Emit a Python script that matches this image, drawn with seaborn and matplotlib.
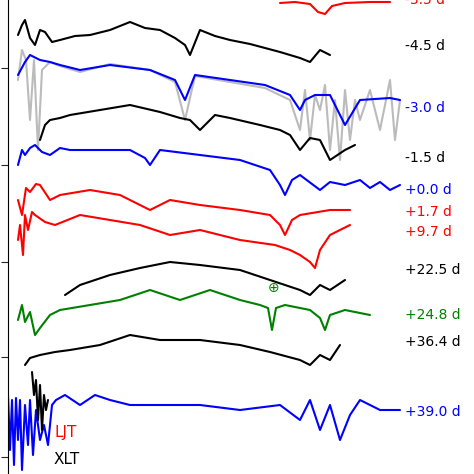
import matplotlib
matplotlib.use("Agg")
import matplotlib.pyplot as plt
import seaborn as sns
import pandas as pd

sns.set_style("white")
plt.rcParams['font.family'] = ['DejaVu Sans']

labels = ["-3.5 d","-4.5 d","-3.0 d","-1.5 d","+0.0 d","+1.7 d","+9.7 d","+22.5 d","+24.8 d","+36.4 d","+39.0 d"]
colors = ["red","black","blue","black","blue","red","red","black","green","black","blue"]
label_y = [0,46,108,158,190,212,232,270,315,342,412]

x_m35 = [280,295,310,318,325,332,345,370,390]
y_m35 = [3,2,4,12,14,6,3,2,2]
x_m45 = [18,22,25,30,35,40,45,52,60,75,90,110,130,145,160,175,185,190,200,215,230,250,265,280,290,300,310,320,330]
y_m45 = [35,25,20,38,45,30,32,42,40,36,35,30,22,28,30,38,45,55,30,36,40,44,48,52,55,58,62,50,55]
x_m30g = [18,22,26,30,34,38,42,50,60,80,110,150,175,185,195,230,265,290,300,305,310,315,320,325,330,335,340,345,350,355,360,370,380,390,395,400]
y_m30g = [80,50,60,120,60,150,70,62,66,72,64,70,82,120,76,82,88,100,130,90,140,95,110,85,150,100,160,90,140,100,120,90,130,80,140,100]
x_m30 = [18,25,30,40,50,60,80,110,150,175,185,195,230,265,290,300,305,315,330,345,360,390,400]
y_m30 = [75,62,55,60,62,65,70,65,70,80,100,75,80,85,95,110,100,95,95,125,100,98,100]
x_m15 = [40,45,50,60,70,100,130,160,180,190,200,215,230,260,280,290,300,310,320,330,345,355]
y_m15 = [140,125,120,118,115,110,105,112,118,120,130,115,118,125,130,135,150,138,140,160,150,145]
x_p00 = [18,22,25,30,35,42,50,60,70,100,130,145,150,160,200,240,270,280,285,292,300,320,330,345,360,370,380,390,400]
y_p00 = [165,150,155,148,145,152,155,148,150,150,150,158,165,150,155,160,170,185,195,180,175,190,182,185,180,188,182,190,185]
x_p17 = [18,22,26,30,36,40,50,60,90,120,150,170,200,240,270,280,285,292,300,330,350]
y_p17 = [200,215,188,192,184,185,200,195,190,195,210,200,205,210,215,225,235,220,215,210,210]
x_p97 = [18,20,23,25,28,32,35,45,55,80,110,140,170,200,240,275,290,300,310,315,320,330,350]
y_p97 = [240,225,255,215,230,212,215,222,225,215,220,225,235,230,240,245,250,255,262,268,250,235,225]
x_p225 = [65,80,110,140,170,200,240,270,300,310,320,330,345]
y_p225 = [295,285,275,268,262,265,270,280,290,295,285,290,280]
x_p248 = [18,22,25,30,35,40,50,60,90,120,150,180,210,240,260,268,272,276,285,310,320,325,330,345,370]
y_p248 = [320,305,322,312,335,328,315,310,305,300,290,300,290,300,305,308,330,308,305,310,318,330,315,310,315]
x_p364 = [25,30,40,55,70,100,130,160,200,240,270,300,310,320,330,340]
y_p364 = [365,358,355,352,350,345,335,340,340,345,352,360,365,355,360,345]
x_xlt = [32,34,36,38,40,42,44,46,48]
y_xlt = [372,395,380,420,385,430,395,410,400]
x_p390 = [8,10,12,14,16,18,20,22,25,28,30,33,36,40,44,48,52,56,65,80,95,110,130,150,200,240,280,300,310,320,330,340,350,360,380,400]
y_p390 = [395,450,400,465,398,440,400,470,405,445,400,455,410,440,425,445,405,400,395,405,395,400,405,405,405,410,405,420,400,430,405,440,415,400,410,410]

fig = plt.figure(figsize=(4.74,4.74), dpi=100)
ax = fig.add_axes([8/474, 0, 1-8/474, 1])

series = [(x_m35,y_m35,"red"),(x_m45,y_m45,"black"),(x_m30g,y_m30g,"#bbbbbb"),
          (x_m30,y_m30,"blue"),(x_m15,y_m15,"black"),(x_p00,y_p00,"blue"),
          (x_p17,y_p17,"red"),(x_p97,y_p97,"red"),(x_p225,y_p225,"black"),
          (x_p248,y_p248,"green"),(x_p364,y_p364,"black"),(x_p390,y_p390,"blue"),
          (x_xlt,y_xlt,"black")]
for xs, ys, c in series:
    df = pd.DataFrame({"x": xs, "y": ys})
    sns.lineplot(data=df, x="x", y="y", ax=ax, color=c, lw=1.5, sort=False, estimator=None)

for lab, c, yy in zip(labels, colors, label_y):
    ax.text(405, yy, lab, color=c, fontsize=10, va="center")
ax.text(268, 288, "⊕", color="green", fontsize=10, va="center")
ax.text(54, 432, "LJT", color="red", fontsize=11, va="center")
ax.text(54, 460, "XLT", color="black", fontsize=11, va="center")

ax.set_xlim(8, 474)
ax.set_ylim(474, 0)
ax.set_xlabel(""); ax.set_ylabel("")
ax.set_xticks([])
ax.set_yticks([68,165,262,357,457])
ax.set_yticklabels([])
ax.tick_params(axis="y", direction="out", length=5, left=True)
for s in ["top","right","bottom"]:
    ax.spines[s].set_visible(False)
ax.spines["left"].set_color("black")
fig.savefig("out.png", dpi=100)
